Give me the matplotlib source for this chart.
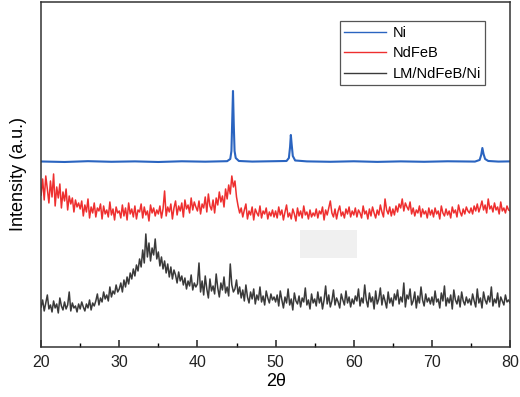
import numpy as np
import matplotlib
matplotlib.use("Agg")
import matplotlib.pyplot as plt
from matplotlib.patches import Rectangle

plt.rcParams['font.family'] = ['Liberation Sans', 'DejaVu Sans']

# Ni pattern (sharp peaks at 44.5, 51.9, 76.4)
ni_x = [20.0, 23.0, 26.0, 29.0, 32.0, 35.0, 38.0, 41.0, 43.8, 44.2, 44.35, 44.45,
        44.55, 44.65, 44.75, 44.9, 45.3, 47.0, 50.0, 51.4, 51.7, 51.85, 51.95,
        52.05, 52.2, 52.5, 54.0, 57.0, 60.0, 63.0, 66.0, 69.0, 72.0, 75.5,
        76.1, 76.3, 76.45, 76.6, 76.8, 77.2, 78.5, 80.0]
ni_y = [185.5, 185.0, 185.8, 185.2, 185.6, 185.0, 185.7, 185.3, 185.8, 188, 196, 226,
        256, 222, 196, 189, 186, 185.4, 185.8, 186.0, 189, 200, 212,
        203, 191, 186.5, 185.6, 185.2, 185.7, 185.1, 185.6, 185.2, 185.7, 185.4,
        187, 192, 199, 193, 188, 186, 185.4, 185.6]

two_theta = [round(20 + 0.2 * i, 1) for i in range(301)]

ndfeb = [
    152, 168, 147, 171, 158, 144, 166, 150, 173, 141, 160, 149, 163, 139, 155, 146, 158, 137, 151, 143, 149, 135, 147, 140, 144,
    138, 146, 131, 142, 135, 148, 129, 140, 134, 144, 130, 139, 136, 143, 128, 141, 133, 137, 130, 145, 132, 138, 127, 140, 134,
    136, 129, 142, 131, 139, 127, 144, 133, 138, 130, 141, 128, 137, 135, 143, 129, 140, 132, 136, 126, 142, 134, 139, 131, 137,
    133, 141, 129, 138, 156, 131, 140, 135, 143, 128, 139, 146, 132, 141, 136, 144, 130, 147, 138, 142, 134, 149, 137, 145, 140,
    136, 146, 133, 143, 139, 150, 135, 153, 141, 137, 147, 134, 149, 142, 155, 145, 151, 140, 158, 148, 162, 153, 171, 160, 166,
    150, 141, 134, 139, 130, 137, 143, 128, 136, 132, 140, 127, 138, 134, 131, 141, 129, 136, 133, 139, 128, 135, 131, 137, 130,
    136, 129, 140, 132, 137, 127, 135, 142, 130, 134, 128, 138, 133, 126, 139, 131, 136, 129, 141, 132, 135, 128, 137, 130, 134,
    131, 138, 129, 136, 133, 140, 127, 137, 132, 139, 146, 134, 130, 138, 128, 136, 141, 131, 135, 129, 138, 133, 140, 130, 136,
    132, 139, 130, 137, 134, 129, 141, 133, 136, 128, 138, 131, 140, 134, 129, 137, 132, 142, 135, 130, 148, 137, 133, 140, 131,
    138, 132, 141, 135, 143, 139, 148, 136, 144, 140, 137, 145, 133, 139, 131, 137, 134, 141, 130, 138, 133, 136, 129, 139, 132,
    137, 130, 139, 133, 136, 128, 141, 134, 131, 138, 132, 136, 129, 140, 134, 137, 130, 142, 135, 131, 138, 133, 140, 136, 134,
    139, 133, 141, 136, 143, 135, 140, 146, 137, 142, 134, 148, 138, 141, 135, 144, 137, 140, 133, 145, 136, 139, 134, 141, 137,
    136,
]

lm = [
    40, 47, 36, 44, 52, 38, 42, 35, 46, 39, 43, 34, 49, 41, 37, 45, 38, 42, 55, 36, 44, 39, 41, 35, 43,
    38, 45, 40, 36, 43, 39, 47, 37, 44, 41, 46, 53, 42, 49, 45, 55, 48, 52, 46, 60, 50, 56, 53, 62, 55,
    58, 64, 55, 67, 60, 70, 63, 74, 68, 78, 71, 82, 76, 88, 80, 97, 84, 113, 90, 104, 86, 99, 92, 108, 88,
    95, 81, 90, 78, 86, 74, 83, 70, 80, 68, 77, 72, 64, 75, 66, 71, 62, 69, 58, 66, 61, 72, 57, 64, 60,
    63, 84, 55, 66, 52, 71, 58, 49, 68, 56, 61, 53, 73, 59, 50, 64, 57, 70, 54, 60, 51, 83, 62, 55, 58,
    67, 53, 60, 49, 57, 46, 62, 50, 44, 55, 48, 58, 43, 52, 47, 60, 45, 51, 42, 56, 49, 44, 53, 47, 50,
    45, 52, 41, 56, 47, 39, 50, 44, 58, 42, 48, 37, 54, 46, 43, 51, 40, 49, 45, 59, 42, 47, 38, 53, 44,
    48, 41, 55, 44, 50, 38, 47, 61, 43, 52, 40, 46, 57, 42, 49, 45, 39, 53, 47, 42, 56, 44, 50, 40, 48,
    43, 51, 46, 58, 41, 49, 44, 62, 47, 40, 54, 45, 50, 38, 56, 43, 48, 59, 42, 52, 46, 39, 55, 44, 49,
    41, 53, 47, 57, 43, 50, 45, 64, 40, 52, 48, 58, 42, 46, 55, 39, 51, 44, 60, 47, 41, 53, 45, 49, 43,
    50, 42, 56, 45, 48, 39, 54, 46, 61, 41, 49, 44, 52, 38, 57, 47, 43, 51, 40, 55, 46, 42, 50, 44, 48,
    42, 53, 46, 40, 58, 44, 49, 39, 55, 47, 43, 51, 45, 60, 41, 48, 44, 54, 40, 50, 46, 42, 52, 45, 47,
    44,
]

labels = ["Ni", "NdFeB", "LM/NdFeB/Ni"]
colors = ["#2a64c0", "#ee2f2f", "#3a3a3a"]

fig = plt.figure(figsize=(5.2, 3.97), dpi=100)
ax = fig.add_axes([0.079, 0.126, 0.902, 0.869])

ax.plot(ni_x, ni_y, color=colors[0], lw=1.5, label=labels[0])
ax.plot(two_theta, ndfeb, color=colors[1], lw=1.1, label=labels[1])
ax.plot(two_theta, lm, color=colors[2], lw=1.1, label=labels[2])

# faint grey block present in the source image
ax.add_patch(Rectangle((0.552, 0.258), 0.122, 0.081, transform=ax.transAxes,
                       facecolor="#f0f0f0", edgecolor="none", zorder=0))

ax.set_xlim(20, 80)
ax.set_ylim(0, 345)
ax.set_xticks([20, 30, 40, 50, 60, 70, 80])
ax.set_xticks([25, 35, 45, 55, 65, 75], minor=True)
ax.set_yticks([])
ax.tick_params(axis="x", direction="in", length=5, width=1.1, labelsize=11.5, pad=6,
               colors="#222222")
ax.tick_params(axis="x", which="minor", direction="in", length=3, width=1.0)
for s in ax.spines.values():
    s.set_linewidth(1.1)
    s.set_color("#333333")

ax.set_xlabel("2θ", fontsize=13, labelpad=2)
ax.set_ylabel("Intensity (a.u.)", fontsize=13, labelpad=10)

leg = ax.legend(loc="upper right", bbox_to_anchor=(0.962, 0.965), fontsize=10.5,
                handlelength=2.9, labelspacing=0.45, borderpad=0.3,
                handletextpad=0.4, fancybox=False, framealpha=1)
leg.get_frame().set_edgecolor("#555555")
leg.get_frame().set_linewidth(0.9)
for line in leg.get_lines():
    line.set_linewidth(1.0)

fig.savefig("out.png", dpi=100)
